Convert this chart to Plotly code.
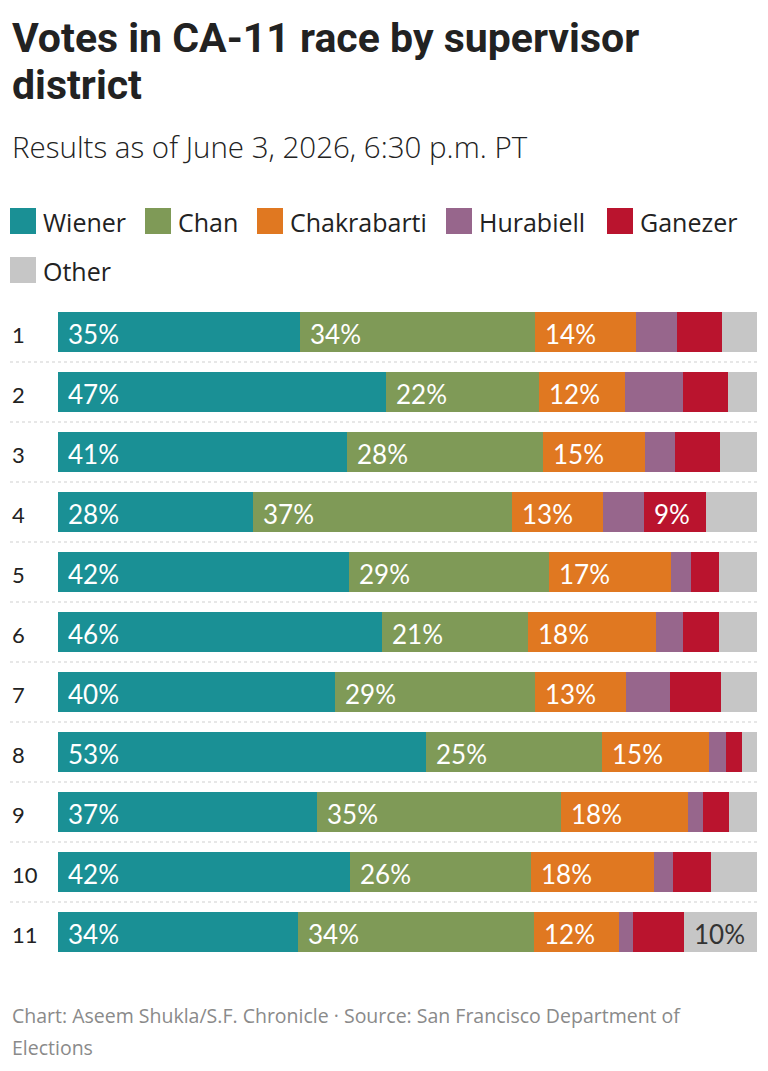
import plotly.graph_objects as go

# ---------------- data ----------------
districts = ["1", "2", "3", "4", "5", "6", "7", "8", "9", "10", "11"]
candidates = ["Wiener", "Chan", "Chakrabarti", "Hurabiell", "Ganezer", "Other"]
colors = ["#1a9095", "#7f9a57", "#e07821", "#97668c", "#ba142e", "#c6c6c6"]

wiener      = [34.6, 46.9, 41.3, 27.9, 41.6, 46.4, 39.6, 52.6, 37.0, 41.8, 34.3]
chan        = [33.7, 21.9, 28.1, 37.0, 28.7, 20.9, 28.7, 25.2, 34.9, 25.8, 33.8]
chakrabarti = [14.4, 12.3, 14.6, 13.1, 17.4, 18.3, 12.9, 15.3, 18.2, 17.7, 12.1]
hurabiell   = [5.9, 8.3, 4.3, 5.9, 2.9, 3.8, 6.4, 2.4, 2.2, 2.7, 2.1]
ganezer     = [6.4, 6.4, 6.4, 8.8, 4.0, 5.1, 7.2, 2.4, 3.7, 5.4, 7.3]
other       = [5.0, 4.2, 5.3, 7.3, 5.4, 5.5, 5.2, 2.1, 4.0, 6.6, 10.4]

series = [wiener, chan, chakrabarti, hurabiell, ganezer, other]

title_lines = ["Votes in CA-11 race by supervisor", "district"]
subtitle = "Results as of June 3, 2026, 6:30 p.m. PT"
footer_lines = ["Chart: Aseem Shukla/S.F. Chronicle \u00b7 Source: San Francisco Department of",
                "Elections"]

# ---------------- layout geometry ----------------
W, H = 768, 1071
ML, MR, MT, MB = 58, 11, 302, 109
PW = W - ML - MR
PH = H - MT - MB

def px_x(px):
    return (px - ML) / PW

def px_y(py):
    return (H - MB - py) / PH

TXT = "#222222"
FONT = "'Open Sans', sans-serif"
NUM_FONT = "Lato, 'Open Sans', sans-serif"
TITLE_FONT = "Roboto, sans-serif"

fig = go.Figure()
for name, color, vals in zip(candidates, colors, series):
    fig.add_trace(go.Bar(
        y=districts, x=vals, name=name, orientation="h",
        marker=dict(color=color, line=dict(width=0)),
        showlegend=False, hovertemplate=name + ": %{x:.1f}%<extra></extra>",
    ))

annotations = []
shapes = []

# segment labels (category index used as y position)
for i, d in enumerate(districts):
    total = sum(s[i] for s in series)
    cum = 0.0
    for j, s in enumerate(series):
        v = s[i] / total * 100
        if v >= 8.5:
            annotations.append(dict(
                x=cum, y=i, xref="x", yref="y", xanchor="left", yanchor="middle",
                xshift=8, yshift=-2, showarrow=False,
                text=f"{round(v)}%",
                font=dict(family=NUM_FONT, size=26,
                          color="#333333" if candidates[j] == "Other" else "white"),
            ))
        cum += v
    # row label
    annotations.append(dict(
        x=px_x(10), y=i, xref="paper", yref="y", xanchor="left", yanchor="middle",
        yshift=-2, showarrow=False, text=d,
        font=dict(family=NUM_FONT, size=22, color=TXT),
    ))

# dotted separators
for i in range(len(districts) - 1):
    shapes.append(dict(
        type="line", xref="paper", yref="y",
        x0=px_x(10), x1=1, y0=i + 0.5, y1=i + 0.5,
        line=dict(color="#cfcfcf", width=1.2, dash="dot"),
    ))

def top_text(text, cy, size, color=TXT, family=FONT, x=10, weight=None):
    font = dict(family=family, size=size, color=color)
    if weight is not None:
        font["weight"] = weight
    return dict(
        x=px_x(x), y=1, xref="paper", yref="paper", xanchor="left", yanchor="middle",
        yshift=MT - cy, showarrow=False, text=text, font=font,
    )

annotations.append(top_text("<b>" + title_lines[0] + "</b>", 38, 41, family=TITLE_FONT))
annotations.append(top_text("<b>" + title_lines[1] + "</b>", 85, 41, family=TITLE_FONT))
annotations.append(top_text(subtitle, 146, 29.5, weight=300))

# custom legend
legend_pos = [(10, 221), (145, 221), (257, 221), (446, 221), (607, 221), (10, 270)]
for (lx, ly), name, color in zip(legend_pos, candidates, colors):
    shapes.append(dict(
        type="rect", xref="paper", yref="paper",
        x0=px_x(lx), x1=px_x(lx + 26), y0=px_y(ly + 13), y1=px_y(ly - 13),
        fillcolor=color, line=dict(width=0),
    ))
    annotations.append(top_text(name, ly + 1, 25, x=lx + 31))

# footer
for k, line in enumerate(footer_lines):
    cy = 1015 + 32 * k
    annotations.append(dict(
        x=px_x(10), y=0, xref="paper", yref="paper", xanchor="left", yanchor="middle",
        yshift=(H - MB) - cy, showarrow=False, text=line,
        font=dict(family=FONT, size=19.5, color="#8a8a8a"),
    ))

fig.update_layout(
    width=W, height=H,
    margin=dict(l=ML, r=MR, t=MT, b=MB, pad=0),
    barmode="stack", barnorm="percent", bargap=1 / 3,
    plot_bgcolor="white", paper_bgcolor="white",
    xaxis=dict(range=[0, 100], visible=False, fixedrange=True),
    yaxis=dict(type="category", categoryorder="array", categoryarray=districts,
               range=[len(districts) - 0.5, -0.5], visible=False, fixedrange=True),
    annotations=annotations, shapes=shapes,
    font=dict(family=FONT, color=TXT),
)

fig.write_html("out.html", config={"displayModeBar": False})
